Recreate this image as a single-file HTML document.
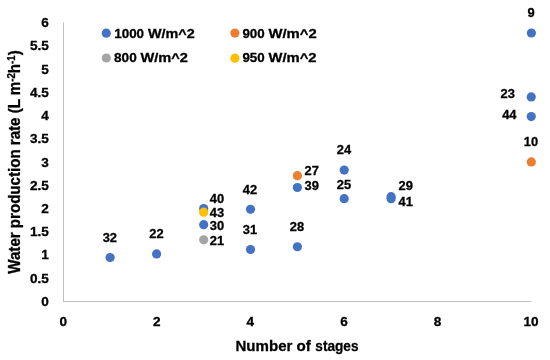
<!DOCTYPE html><html><head><meta charset="utf-8"><style>html,body{margin:0;padding:0;background:#fff;width:550px;height:360px;overflow:hidden}svg{display:block}</style></head><body>
<svg width="550" height="360" viewBox="0 0 550 360">
<rect width="550" height="360" fill="#fff"/>
<line x1="63.5" y1="22.5" x2="63.5" y2="301.5" stroke="#BFBFBF" stroke-width="1"/>
<line x1="63" y1="301.5" x2="531.5" y2="301.5" stroke="#BFBFBF" stroke-width="1"/>
<g font-family="Liberation Sans, sans-serif" font-weight="bold" stroke="#000" stroke-width="0.3" font-size="13.6" fill="#000" text-anchor="end">
<text x="48.9" y="305.76">0</text>
<text x="48.9" y="282.55">0.5</text>
<text x="48.9" y="259.34">1</text>
<text x="48.9" y="236.13">1.5</text>
<text x="48.9" y="212.93">2</text>
<text x="48.9" y="189.72">2.5</text>
<text x="48.9" y="166.51">3</text>
<text x="48.9" y="143.30">3.5</text>
<text x="48.9" y="120.09">4</text>
<text x="48.9" y="96.89">4.5</text>
<text x="48.9" y="73.68">5</text>
<text x="48.9" y="50.47">5.5</text>
<text x="48.9" y="27.26">6</text>
</g>
<g font-family="Liberation Sans, sans-serif" font-weight="bold" stroke="#000" stroke-width="0.3" font-size="13.6" fill="#000" text-anchor="middle">
<text x="63.30" y="325.5">0</text>
<text x="156.84" y="325.5">2</text>
<text x="250.38" y="325.5">4</text>
<text x="343.92" y="325.5">6</text>
<text x="437.46" y="325.5">8</text>
<text x="531.00" y="325.5">10</text>
</g>
<circle cx="110.1" cy="257.5" r="4.6" fill="#4472C4"/>
<circle cx="156.6" cy="253.9" r="4.6" fill="#4472C4"/>
<circle cx="203.7" cy="208.6" r="4.6" fill="#4472C4"/>
<circle cx="203.7" cy="212.2" r="4.6" fill="#FFC000"/>
<circle cx="203.7" cy="224.7" r="4.6" fill="#4472C4"/>
<circle cx="203.7" cy="239.8" r="4.6" fill="#A5A5A5"/>
<circle cx="250.5" cy="209.25" r="4.6" fill="#4472C4"/>
<circle cx="250.5" cy="249.5" r="4.6" fill="#4472C4"/>
<circle cx="297.4" cy="175.7" r="4.6" fill="#ED7D31"/>
<circle cx="297.4" cy="187.5" r="4.6" fill="#4472C4"/>
<circle cx="297.4" cy="246.75" r="4.6" fill="#4472C4"/>
<circle cx="344.2" cy="170.1" r="4.6" fill="#4472C4"/>
<circle cx="344.2" cy="198.7" r="4.6" fill="#4472C4"/>
<circle cx="391.1" cy="196.7" r="4.6" fill="#4472C4"/>
<circle cx="391.1" cy="198.7" r="4.6" fill="#4472C4"/>
<circle cx="531.4" cy="33.0" r="4.6" fill="#4472C4"/>
<circle cx="531.25" cy="96.9" r="4.6" fill="#4472C4"/>
<circle cx="531.25" cy="116.6" r="4.6" fill="#4472C4"/>
<circle cx="531.3" cy="161.9" r="4.6" fill="#ED7D31"/>
<g font-family="Liberation Sans, sans-serif" font-weight="bold" stroke="#000" stroke-width="0.3" font-size="12.9" fill="#000" text-anchor="middle">
<text x="109.85" y="241.50">32</text>
<text x="156.40" y="237.70">22</text>
<text x="216.95" y="202.50">40</text>
<text x="216.95" y="216.70">43</text>
<text x="216.95" y="229.70">30</text>
<text x="216.95" y="245.00">21</text>
<text x="249.90" y="193.50">42</text>
<text x="250.00" y="233.50">31</text>
<text x="311.65" y="175.00">27</text>
<text x="311.65" y="189.80">39</text>
<text x="296.95" y="230.60">28</text>
<text x="343.90" y="154.40">24</text>
<text x="343.90" y="189.40">25</text>
<text x="405.75" y="190.00">29</text>
<text x="405.75" y="205.60">41</text>
<text x="531.10" y="17.20">9</text>
<text x="507.68" y="97.75">23</text>
<text x="509.38" y="118.75">44</text>
<text x="530.92" y="145.60">10</text>
</g>
<circle cx="106.3" cy="33.2" r="4.6" fill="#4472C4"/>
<text font-family="Liberation Sans, sans-serif" font-weight="bold" stroke="#000" stroke-width="0.3" font-size="13.4" x="114.2" y="37.80" textLength="29.9" lengthAdjust="spacingAndGlyphs">1000</text>
<text font-family="Liberation Sans, sans-serif" font-weight="bold" stroke="#000" stroke-width="0.3" font-size="13.4" x="147.9" y="37.80" textLength="46.8" lengthAdjust="spacingAndGlyphs">W/m^2</text>
<circle cx="106.3" cy="58.0" r="4.6" fill="#A5A5A5"/>
<text font-family="Liberation Sans, sans-serif" font-weight="bold" stroke="#000" stroke-width="0.3" font-size="13.4" x="114.0" y="62.00" textLength="22.7" lengthAdjust="spacingAndGlyphs">800</text>
<text font-family="Liberation Sans, sans-serif" font-weight="bold" stroke="#000" stroke-width="0.3" font-size="13.4" x="140.5" y="62.00" textLength="47.5" lengthAdjust="spacingAndGlyphs">W/m^2</text>
<circle cx="234.9" cy="33.1" r="4.6" fill="#ED7D31"/>
<text font-family="Liberation Sans, sans-serif" font-weight="bold" stroke="#000" stroke-width="0.3" font-size="13.4" x="242.4" y="37.80" textLength="22.3" lengthAdjust="spacingAndGlyphs">900</text>
<text font-family="Liberation Sans, sans-serif" font-weight="bold" stroke="#000" stroke-width="0.3" font-size="13.4" x="268.5" y="37.80" textLength="48.2" lengthAdjust="spacingAndGlyphs">W/m^2</text>
<circle cx="234.9" cy="58.2" r="4.6" fill="#FFC000"/>
<text font-family="Liberation Sans, sans-serif" font-weight="bold" stroke="#000" stroke-width="0.3" font-size="13.4" x="242.4" y="62.30" textLength="22.3" lengthAdjust="spacingAndGlyphs">950</text>
<text font-family="Liberation Sans, sans-serif" font-weight="bold" stroke="#000" stroke-width="0.3" font-size="13.4" x="268.5" y="62.30" textLength="48.0" lengthAdjust="spacingAndGlyphs">W/m^2</text>
<text font-family="Liberation Sans, sans-serif" font-weight="bold" stroke="#000" stroke-width="0.3" font-size="15.4" x="235.5" y="350.7" textLength="56.9" lengthAdjust="spacingAndGlyphs">Number</text>
<text font-family="Liberation Sans, sans-serif" font-weight="bold" stroke="#000" stroke-width="0.3" font-size="15.4" x="296.5" y="350.7" textLength="14.3" lengthAdjust="spacingAndGlyphs">of</text>
<text font-family="Liberation Sans, sans-serif" font-weight="bold" stroke="#000" stroke-width="0.3" font-size="15.4" x="315.3" y="350.7" textLength="43.2" lengthAdjust="spacingAndGlyphs">stages</text>
<text font-family="Liberation Sans, sans-serif" font-weight="bold" stroke="#000" stroke-width="0.3" font-size="15.6" transform="translate(20.0,273.7) rotate(-90)" x="0" y="0" textLength="223.4" lengthAdjust="spacingAndGlyphs">Water production rate (L m<tspan font-size="10" dy="-5">-2</tspan><tspan dy="5">h</tspan><tspan font-size="10" dy="-5">-1</tspan><tspan dy="5">)</tspan></text>
</svg></body></html>
